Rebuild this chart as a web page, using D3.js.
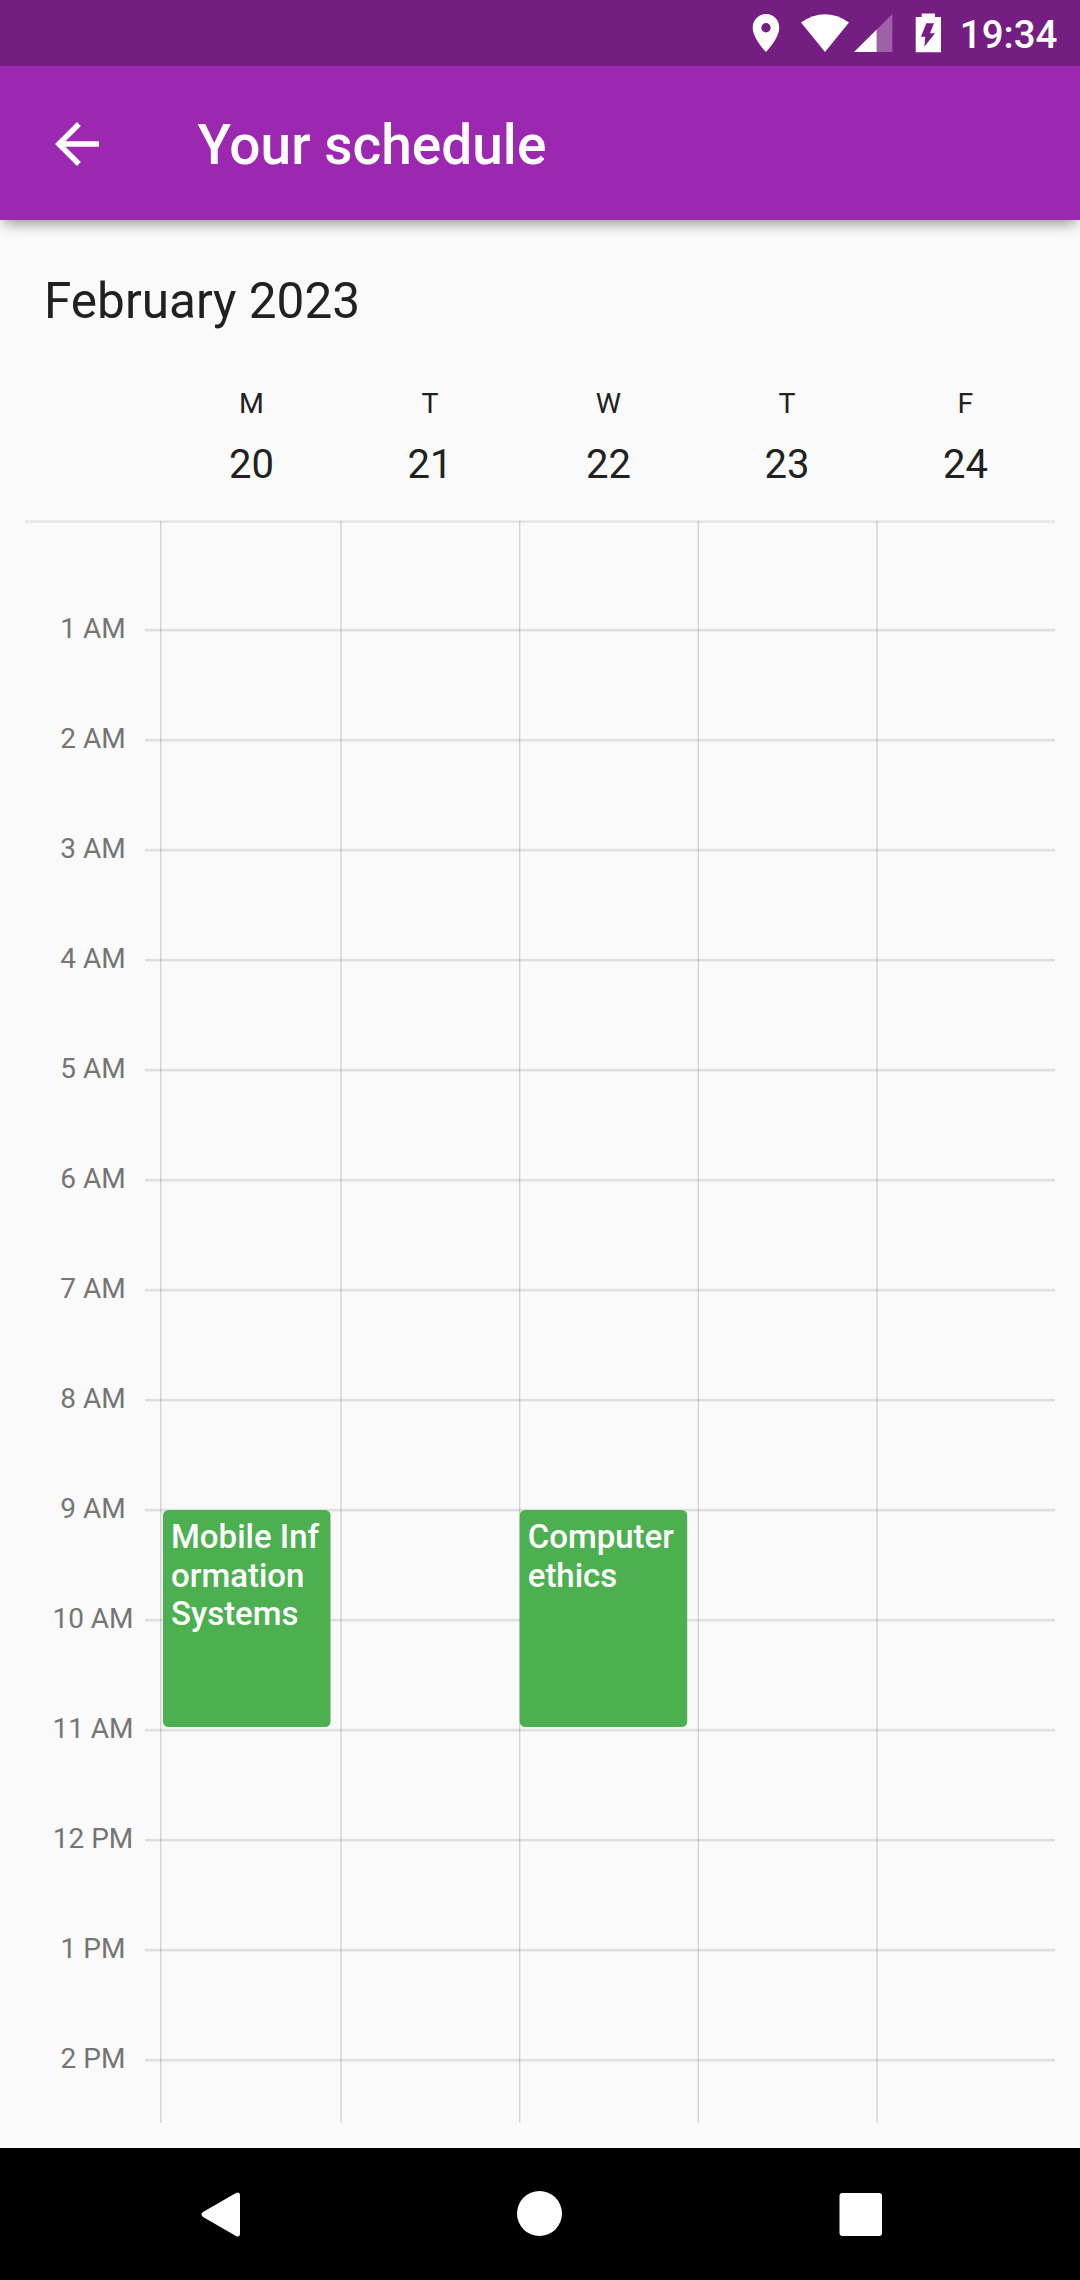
<!DOCTYPE html>
<html>
<head>
<meta charset="utf-8">
<title>Your schedule</title>
<script src="https://cdn.jsdelivr.net/npm/d3@7"></script>
<style>
    html, body { margin: 0; padding: 0; background: #fafafa; }
    svg { display: block; font-family: Roboto, sans-serif; }
</style>
</head>
<body>
<svg id="chart" width="1080" height="2280"></svg>
<script>
// Schedule data
const dayLetters = ['M', 'T', 'W', 'T', 'F'];
const dayNumbers = ['20', '21', '22', '23', '24'];
const hours = [1, 2, 3, 4, 5, 6, 7, 8, 9, 10, 11, 12, 13, 14];
const hourLabels = ['1 AM', '2 AM', '3 AM', '4 AM', '5 AM', '6 AM', '7 AM', '8 AM', '9 AM', '10 AM', '11 AM', '12 PM', '1 PM', '2 PM'];
const eventDays = [0, 2];
const eventStarts = [9, 9];
const eventEnds = [11, 11];
const eventTitles = [['Mobile Inf', 'ormation', 'Systems'], ['Computer', 'ethics']];

const svg = d3.select('#chart');

// Scales. First column is a bit wider than the rest in the app
const x = d3.scaleLinear().domain([0, 1, 4]).range([160.7, 341, 877]);
const xCenter = d3.scaleLinear().domain([0, 4]).range([251.5, 965.5]);
const xEvent = d3.scaleLinear().domain([0, 2]).range([163, 519.7]);
const y = d3.scaleLinear().domain([0, 14]).range([520, 2060]);

svg.append('rect').attr('width', 1080).attr('height', 2280).attr('fill', '#fafafa');

// Month title
svg.append('text')
    .attr('x', 44)
    .attr('y', 317.5)
    .attr('font-size', 49.5)
    .attr('fill', '#212121')
    .text('February 2023');

// Day header
const header = svg.append('g');
header.selectAll('text.letter')
    .data(dayLetters)
    .enter()
    .append('text')
    .attr('class', 'letter')
    .attr('x', (d, i) => xCenter(i))
    .attr('y', 412.5)
    .attr('text-anchor', 'middle')
    .attr('font-size', 28.5)
    .attr('fill', '#212121')
    .text(d => d);

header.selectAll('text.number')
    .data(dayNumbers)
    .enter()
    .append('text')
    .attr('class', 'number')
    .attr('x', (d, i) => xCenter(i))
    .attr('y', 478)
    .attr('text-anchor', 'middle')
    .attr('font-size', 40)
    .attr('fill', '#212121')
    .text(d => d);

svg.append('line')
    .attr('x1', 25).attr('x2', 1055)
    .attr('y1', y(0) + 1.5).attr('y2', y(0) + 1.5)
    .attr('stroke', '#e6e6e6')
    .attr('stroke-width', 2.75);

// Day separators
svg.append('g')
    .selectAll('line')
    .data(d3.range(5))
    .enter()
    .append('line')
    .attr('x1', d => x(d)).attr('x2', d => x(d))
    .attr('y1', 521).attr('y2', 2123)
    .attr('stroke', '#000')
    .attr('stroke-opacity', 0.15)
    .attr('stroke-width', 1.5);

// Hour axis: ticks double as the horizontal grid
const axis = d3.axisLeft(y)
    .tickValues(hours)
    .tickSize(-910)
    .offset(0)
    .tickFormat((d, i) => hourLabels[i]);

const axisG = svg.append('g')
    .attr('transform', 'translate(145, 0)')
    .call(axis);

axisG.select('.domain').remove();
axisG.selectAll('.tick line')
    .attr('stroke', '#000')
    .attr('stroke-opacity', 0.1)
    .attr('stroke-width', 2.75);
axisG.selectAll('.tick text')
    .attr('x', 93 - 145)
    .attr('dy', null)
    .attr('y', 8)
    .attr('text-anchor', 'middle')
    .attr('font-family', 'Roboto, sans-serif')
    .attr('font-size', 28)
    .attr('fill', '#757575');

// Events
const events = svg.append('g')
    .selectAll('g')
    .data(eventDays)
    .enter()
    .append('g')
    .attr('transform', (d, i) => `translate(${xEvent(d)}, ${y(eventStarts[i])})`);

events.append('rect')
    .attr('width', 167.5)
    .attr('height', (d, i) => y(eventEnds[i]) - y(eventStarts[i]) - 3)
    .attr('rx', 5.5)
    .attr('fill', '#4caf50');

events.each(function (d, i) {
    d3.select(this).selectAll('text')
        .data(eventTitles[i])
        .enter()
        .append('text')
        .attr('x', 8)
        .attr('y', (t, j) => 38 + j * 38.7)
        .attr('font-size', 33)
        .attr('font-weight', 500)
        .attr('fill', '#fff')
        .text(t => t);
});

// App bar, with shadow below it
const defs = svg.append('defs');
defs.append('filter')
    .attr('id', 'bar-shadow')
    .attr('x', '-5%').attr('y', '-20%').attr('width', '110%').attr('height', '140%')
    .append('feGaussianBlur')
    .attr('stdDeviation', 7);

svg.append('rect')
    .attr('x', 4).attr('y', 70)
    .attr('width', 1072).attr('height', 154)
    .attr('fill', '#000')
    .attr('fill-opacity', 0.4)
    .attr('filter', 'url(#bar-shadow)');
svg.append('rect').attr('y', 66).attr('width', 1080).attr('height', 154).attr('fill', '#9c27b0');
svg.append('rect').attr('width', 1080).attr('height', 66).attr('fill', '#751e81');

svg.append('path')
    .attr('transform', 'translate(44, 111) scale(2.75)')
    .attr('d', 'M20 11H7.83l5.59-5.59L12 4l-8 8 8 8 1.41-1.41L7.83 13H20v-2z')
    .attr('fill', '#fff');

svg.append('text')
    .attr('x', 197.5)
    .attr('y', 164)
    .attr('font-size', 55)
    .attr('font-weight', 500)
    .attr('fill', '#fff')
    .text('Your schedule');

// Status bar
const status = svg.append('g').attr('fill', '#fff');
status.append('path')
    .attr('fill-rule', 'evenodd')
    .attr('d', 'M766 14c-7.5 0-13.3 6.1-13.3 13.7 0 8 7.6 18.3 13.3 24.3 5.7-6 13.3-16.3 13.3-24.3 0-7.6-5.8-13.7-13.3-13.7zm0 9a4.7 4.7 0 1 1 0 9.4 4.7 4.7 0 1 1 0-9.4z');
status.append('path').attr('d', 'M801 22.5Q825 6 849 22.5L825 52Z');
status.append('path').attr('d', 'M854 52L876.7 29.5V52Z');
status.append('path').attr('d', 'M876.7 29.5L892.3 14V52H876.7Z').attr('fill-opacity', 0.3);
status.append('path').attr('d', 'M921.7 17V13.5H935V17H941V52.3H915.7V17Z');
status.append('path')
    .attr('d', 'M926.3 23.3H934L930 33.3H935L924.3 46.7L925.3 36.7H921Z')
    .attr('fill', '#751e81');
status.append('text')
    .attr('x', 1057.5)
    .attr('y', 48)
    .attr('text-anchor', 'end')
    .attr('font-size', 38.5)
    .attr('font-weight', 500)
    .text('19:34');

// Navigation bar
svg.append('rect').attr('y', 2148).attr('width', 1080).attr('height', 132).attr('fill', '#000');
const nav = svg.append('g').attr('fill', '#fff');
nav.append('path')
    .attr('d', 'M240 2196V2233Q240 2238 236 2236L203 2217Q200 2214.5 203 2212L236 2193Q240 2191 240 2196Z');
nav.append('circle').attr('cx', 539.5).attr('cy', 2213.5).attr('r', 22.5);
nav.append('rect').attr('x', 839.5).attr('y', 2193).attr('width', 42.5).attr('height', 43).attr('rx', 3);
</script>
</body>
</html>
